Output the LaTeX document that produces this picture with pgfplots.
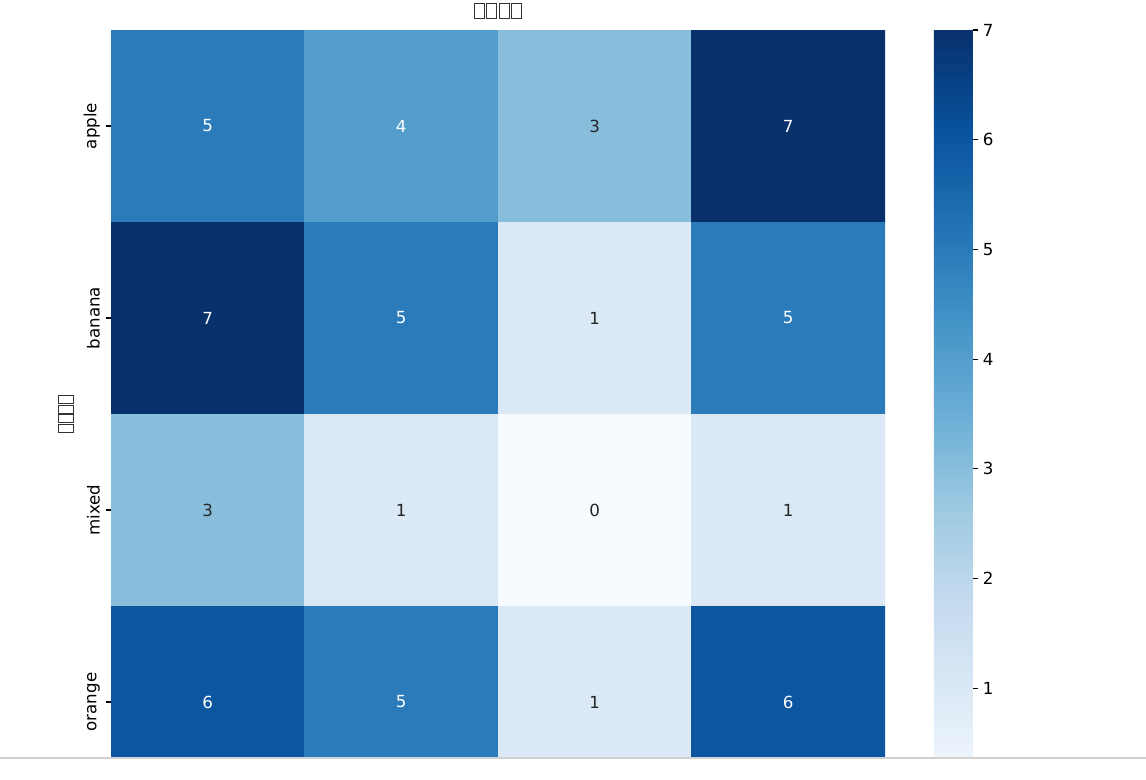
\documentclass[border=0pt]{standalone}
\usepackage{pgfplots}
\pgfplotsset{compat=1.18}
\usepackage{pgfplotstable}
\usepackage{fontspec}
\setmainfont{DejaVu Sans}

\pgfplotsset{
  colormap={blues}{rgb255=(247,251,255) rgb255=(222,235,247) rgb255=(198,219,239)
    rgb255=(158,202,225) rgb255=(107,174,214) rgb255=(66,146,198)
    rgb255=(33,113,181) rgb255=(8,81,156) rgb255=(8,48,107)},
  /pgf/number format/assume math mode=true,
}

\definecolor{annodark}{HTML}{262626}

\newcommand\tofubox[2]{{\fboxsep=0pt\fboxrule=0.7pt\color{black!80}\fbox{\rule{0pt}{#2}\hspace{#1}}}}
\newcommand\titletofu{\tofubox{6.4pt}{10pt}\hspace{1pt}\tofubox{6.4pt}{10pt}\hspace{1pt}\tofubox{6.4pt}{10pt}\hspace{1pt}\tofubox{6.4pt}{10pt}}
\newcommand\labeltofu{\tofubox{5pt}{10pt}\hspace{0.6pt}\tofubox{5pt}{10pt}\hspace{0.6pt}\tofubox{5pt}{10pt}\hspace{0.6pt}\tofubox{5pt}{10pt}}

\pgfplotstableread{
x y c
0 0 5
1 0 4
2 0 3
3 0 7
0 1 7
1 1 5
2 1 1
3 1 5
0 2 3
1 2 1
2 2 0
3 2 1
0 3 6
1 3 5
2 3 1
3 3 6
}\data

\begin{document}
\begin{tikzpicture}[x=1pt,y=1pt]
\useasboundingbox (0,0) rectangle (825.12,561.6);
\begin{axis}[
  at={(79.92pt,-12.96pt)}, anchor=south west,
  scale only axis, width=557.28pt, height=552.96pt,
  xmin=-0.5, xmax=3.5, ymin=-0.5, ymax=3.5, y dir=reverse,
  axis line style={draw=none},
  xtick=\empty,
  ytick={0,1,2,3}, yticklabels={apple,banana,mixed,orange},
  ytick pos=left,
  tick align=outside, major tick length=3.5pt,
  ytick style={black, line width=0.8pt},
  yticklabel style={rotate=90, anchor=south, font=\fontsize{12}{14}\selectfont, black},
  yticklabel shift=1pt,
  colormap name=blues, point meta min=0, point meta max=7,
  title={\titletofu},
  title style={at={(axis description cs:0.5,1)}, anchor=south, yshift=-1.5pt},
  ylabel={\labeltofu},
  ylabel style={at={(axis description cs:-0.0581,0.5)}, anchor=center, rotate=0},
  colorbar,
  colorbar/width=28.08pt,
  colorbar style={
    at={(parent axis.north east)}, anchor=north west, xshift=26.74pt,
    scale only axis, height=552.96pt,
    ytick={1,2,3,4,5,6,7},
    ytick pos=right,
    axis line style={draw=none},
    tick align=outside, major tick length=3.5pt,
    ytick style={black, line width=0.8pt},
    yticklabel style={font=\fontsize{12}{14}\selectfont, black},
  },
]
\addplot[matrix plot*, mesh/cols=4, point meta=explicit] table[x=x, y=y, meta=c] {\data};
\addplot[only marks, mark=none, point meta=explicit,
  nodes near coords={\pgfmathprintnumber{\pgfplotspointmeta}},
  nodes near coords align=center,
  every node near coord/.append style={text=white, font=\fontsize{12}{14}\selectfont, anchor=center},
  restrict expr to domain={\thisrow{c}}{3.5:8}]
  table[x=x, y=y, meta=c] {\data};
\addplot[only marks, mark=none, point meta=explicit,
  nodes near coords={\pgfmathprintnumber{\pgfplotspointmeta}},
  nodes near coords align=center,
  every node near coord/.append style={text=annodark, font=\fontsize{12}{14}\selectfont, anchor=center},
  restrict expr to domain={\thisrow{c}}{-1:3.5}]
  table[x=x, y=y, meta=c] {\data};
\end{axis}
\fill[white] (0,0) rectangle (825.12,15.84);
\draw[black!18, line width=0.8pt] (0,15.84) -- (825.12,15.84);
\end{tikzpicture}
\end{document}
